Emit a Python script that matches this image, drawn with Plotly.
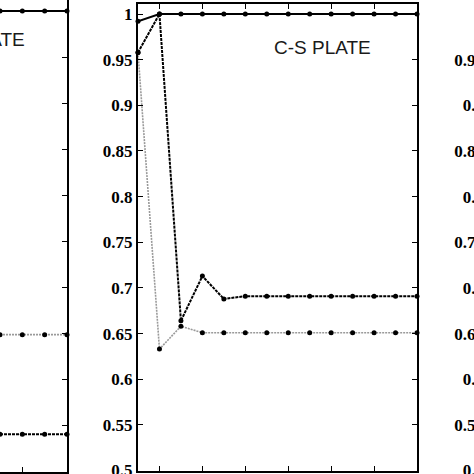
import plotly.graph_objects as go

# iteration numbers on the x axis
steps = list(range(1, 15))

# centre panel (C-S plate)
cs_solid = [0.992, 1.0, 1.0, 1.0, 1.0, 1.0, 1.0, 1.0, 1.0, 1.0, 1.0, 1.0, 1.0, 1.0]
cs_dash = [0.958, 1.0, 0.664, 0.713, 0.688, 0.691, 0.691, 0.691, 0.691, 0.691, 0.691, 0.691, 0.691, 0.691]
cs_gray = [0.958, 0.633, 0.658, 0.651, 0.651, 0.651, 0.651, 0.651, 0.651, 0.651, 0.651, 0.651, 0.651, 0.651]

# left panel, only the last four steps are in the picture
left_steps = [11, 12, 13, 14]
left_solid = [1.0, 1.0, 1.0, 1.0]
left_gray = [0.649, 0.649, 0.649, 0.649]
left_dash = [0.541, 0.541, 0.541, 0.541]

y_ticks = [0.5, 0.55, 0.6, 0.65, 0.7, 0.75, 0.8, 0.85, 0.9, 0.95, 1.0]

W = H = 474
tick_font = dict(family='Liberation Serif', size=17, color='black', weight='bold')
marker = dict(color='black', size=5)


def add_series(fig, x, y, style, xa, ya):
    if style == 'solid':
        line = dict(color='black', width=2)
    elif style == 'dash':
        line = dict(color='black', width=2, dash='3px,1px')
    else:
        line = dict(color='#9a9a9a', width=1.6, dash='2px,1px')
    fig.add_trace(go.Scatter(x=x, y=y, mode='lines+markers', line=line, marker=marker,
                             cliponaxis=False, showlegend=False, xaxis=xa, yaxis=ya))


fig = go.Figure()
for ys, st in [(cs_gray, 'gray'), (cs_dash, 'dash'), (cs_solid, 'solid')]:
    add_series(fig, steps, ys, st, 'x', 'y')
for ys, st in [(left_gray, 'gray'), (left_dash, 'dash'), (left_solid, 'solid')]:
    add_series(fig, left_steps, ys, st, 'x2', 'y2')
# empty trace so the right panel's axis gets drawn
fig.add_trace(go.Scatter(x=[], y=[], xaxis='x', yaxis='y3', showlegend=False))

frame = dict(showline=True, linecolor='black', linewidth=2, showgrid=False, zeroline=False,
             ticks='inside', ticklen=5, tickwidth=1, tickcolor='black', automargin=False)

fig.update_layout(
    width=W, height=H,
    margin=dict(l=0, r=0, t=0, b=0),
    plot_bgcolor='white', paper_bgcolor='white',
    # centre panel
    xaxis=dict(frame, domain=[138 / W, 417 / W], range=[1, 14], mirror='ticks',
               tickvals=[2, 4, 6, 8, 10, 12], showticklabels=False, anchor='y'),
    yaxis=dict(frame, domain=[3 / H, 470 / H], range=[0.4995, 1.011], mirror='ticks',
               tickvals=y_ticks, tickfont=tick_font, anchor='x', ticklabeloverflow='allow'),
    # left panel (cut by the image edge)
    xaxis2=dict(frame, domain=[0, 67 / W], range=[11, 14], mirror=False,
                tickvals=[12, 14], showticklabels=False, anchor='y2'),
    yaxis2=dict(frame, domain=[2 / H, 1], range=[0.5, 1.012], side='right', mirror=False,
                tickvals=y_ticks, showticklabels=False, anchor='x2'),
    # labels of the right panel's axis, which sits past the image edge
    yaxis3=dict(overlaying='y', anchor='free', position=1, side='left', range=[0.4995, 1.011],
                showline=False, showgrid=False, zeroline=False, ticks='', automargin=False,
                tickvals=y_ticks, tickfont=tick_font, ticklabelstandoff=-10,
                ticklabeloverflow='allow'),
    annotations=[
        dict(text='C-S PLATE', x=322 / W, y=1 - 48 / H, xref='paper', yref='paper',
             xanchor='center', yanchor='middle', showarrow=False,
             font=dict(family='Liberation Sans', size=19, color='#1a1a1a')),
        dict(text='S-S PLATE', x=27 / W, y=1 - 40 / H, xref='paper', yref='paper',
             xanchor='right', yanchor='middle', showarrow=False,
             font=dict(family='Liberation Sans', size=19, color='#1a1a1a')),
    ],
)

# drop the page's default body margin so the figure starts at the window corner
fig.write_html('out.html', config={'displayModeBar': False},
               post_script="document.body.style.margin='0px';")
